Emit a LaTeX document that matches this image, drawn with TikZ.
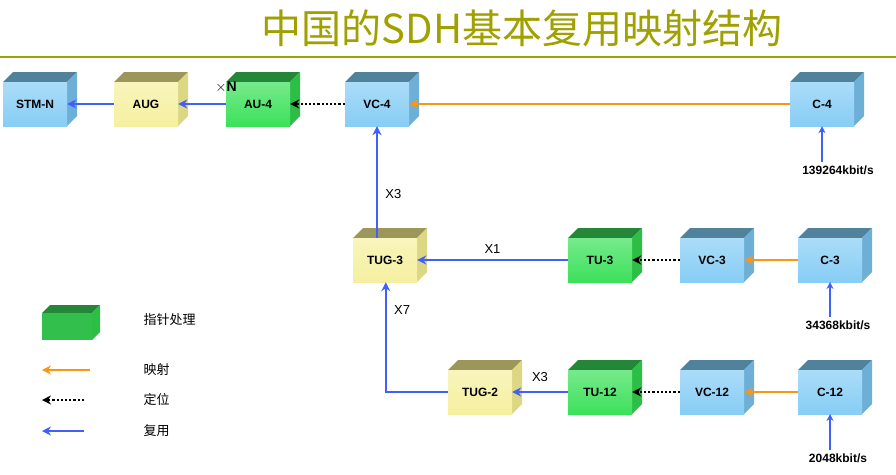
\documentclass[tikz,border=0pt]{standalone}
\usepackage{fontspec}
\setmainfont{Liberation Sans}
\newfontfamily\cjk{Noto Sans CJK SC}
\usetikzlibrary{arrows.meta}
\definecolor{bfront}{RGB}{135,205,245}\definecolor{btop}{RGB}{80,130,155}\definecolor{bside}{RGB}{110,175,215}
\definecolor{yfront}{RGB}{245,240,160}\definecolor{ytop}{RGB}{155,150,90}\definecolor{yside}{RGB}{220,215,130}
\definecolor{gfront}{RGB}{60,225,90}\definecolor{gtop}{RGB}{35,135,55}\definecolor{gside}{RGB}{45,190,70}
\definecolor{olive}{RGB}{160,160,0}\definecolor{mux}{RGB}{65,95,255}\definecolor{mapc}{RGB}{250,150,20}
\tikzset{
 lbl/.style={font=\bfseries\fontsize{12}{12}\selectfont},
 mx/.style={draw=mux,line width=2.2pt,-{Stealth[length=9pt,width=9pt]}},
 mp/.style={draw=mapc,line width=2.2pt,-{Stealth[length=9pt,width=9pt]}},
 al/.style={draw=black,line width=2.2pt,dotted,-{Stealth[length=9pt,width=9pt]}},
 nt/.style={font=\fontsize{13}{13}\selectfont}
}
% \mybox{name}{x}{y}{colorprefix}{label}  (x,y top-left of front face), 64x44
\newcommand{\mybox}[5]{%
 \fill[#4top] (#2,#3) -- ++(10,-10) -- ++(64,0) -- ++(-10,10) -- cycle;
 \fill[#4side] (#2+64,#3) -- ++(10,-10) -- ++(0,44) -- ++(-10,10) -- cycle;
 \shade[top color=#4front!70!white,bottom color=#4front] (#2,#3) rectangle ++(64,44);
 \node[lbl,minimum width=64pt,minimum height=44pt,inner sep=0pt] (#1) at (#2+32,#3+22) {#5};}
\begin{document}
\begin{tikzpicture}[x=1pt,y=-1pt]
\useasboundingbox (0,0) rectangle (896,474);
\node[olive,font=\cjk\fontsize{40}{40}\selectfont,anchor=center] (title) at (522,28) {中国的SDH基本复用映射结构};
\draw[olive,line width=1.5pt] (0,57) -- (896,57);
\mybox{stm}{3}{82}{b}{STM-N}
\mybox{aug}{114}{82}{y}{AUG}
\mybox{au4}{226}{82}{g}{AU-4}
\mybox{vc4}{345}{82}{b}{VC-4}
\mybox{c4}{790}{82}{b}{C-4}
\mybox{tug3}{353}{238}{y}{TUG-3}
\mybox{tu3}{568}{238}{g}{TU-3}
\mybox{vc3}{680}{238}{b}{VC-3}
\mybox{c3}{798}{238}{b}{C-3}
\mybox{tug2}{448}{370}{y}{TUG-2}
\mybox{tu12}{568}{370}{g}{TU-12}
\mybox{vc12}{680}{370}{b}{VC-12}
\mybox{c12}{798}{370}{b}{C-12}
\node[lbl,font=\bfseries\fontsize{14}{14}\selectfont,anchor=south] (xn) at (226,96) {$\times$N};
\draw[mx] (aug.west) -- (stm.east);
\draw[mx] (au4.west) -- (aug.east);
\draw[al] (vc4.west) -- (au4.east);
\draw[mp] (c4.west) -- (vc4.east);
\draw[mx] (tug3.north -| vc4.south) -- (vc4.south) node[nt,midway,right=4pt,yshift=-12pt] (x3a) {X3};
\draw[mx] (tu3.west) -- (tug3.east) node[nt,midway,above=2pt] (x1) {X1};
\draw[al] (vc3.west) -- (tu3.east);
\draw[mp] (c3.west) -- (vc3.east);
\draw[mx] (tug2.west) -- ++(-62,0) coordinate (cr) -- (cr |- tug3.south) node[nt,pos=0.75,right=4pt] (x7) {X7};
\draw[mx] (tu12.west) -- (tug2.east) node[nt,midway,above=6pt] (x3b) {X3};
\draw[al] (vc12.west) -- (tu12.east);
\draw[mp] (c12.west) -- (vc12.east);
\node[font=\bfseries\fontsize{12}{12}\selectfont] (r4) at (838,170) {139264kbit/s};
\node[font=\bfseries\fontsize{12}{12}\selectfont] (r3) at (838,325) {34368kbit/s};
\node[font=\bfseries\fontsize{12}{12}\selectfont] (r12) at (838,458) {2048kbit/s};
\draw[draw=mux,line width=1.5pt,-{Stealth[length=7pt,width=7pt]}] (r4.north -| c4.south) -- (c4.south);
\draw[draw=mux,line width=1.5pt,-{Stealth[length=7pt,width=7pt]}] (r3.north -| 830,0) -- (830,282);
\draw[draw=mux,line width=1.5pt,-{Stealth[length=7pt,width=7pt]}] (r12.north -| 830,0) -- (830,414);
% legend
\fill[gtop] (42,313) -- ++(8,-8) -- ++(50,0) -- ++(-8,8) -- cycle;
\fill[gside] (92,313) -- ++(8,-8) -- ++(0,27) -- ++(-8,8) -- cycle;
\fill[gfront!85!black] (42,313) rectangle (92,340);
\node[font=\cjk\fontsize{13}{13}\selectfont,anchor=west] (l1) at (140,320) {指针处理};
\coordinate (a1) at (90,370); \coordinate (b1) at (42,370);
\draw[mp,line width=1.8pt] (a1) -- (b1);
\node[font=\cjk\fontsize{13}{13}\selectfont,anchor=west] (l2) at (140,370) {映射};
\coordinate (a2) at (84,400); \coordinate (b2) at (42,400);
\draw[al,line width=1.8pt] (a2) -- (b2);
\node[font=\cjk\fontsize{13}{13}\selectfont,anchor=west] (l3) at (140,400) {定位};
\coordinate (a3) at (84,431); \coordinate (b3) at (42,431);
\draw[mx,line width=1.8pt] (a3) -- (b3);
\node[font=\cjk\fontsize{13}{13}\selectfont,anchor=west] (l4) at (140,431) {复用};
\end{tikzpicture}
\end{document}
